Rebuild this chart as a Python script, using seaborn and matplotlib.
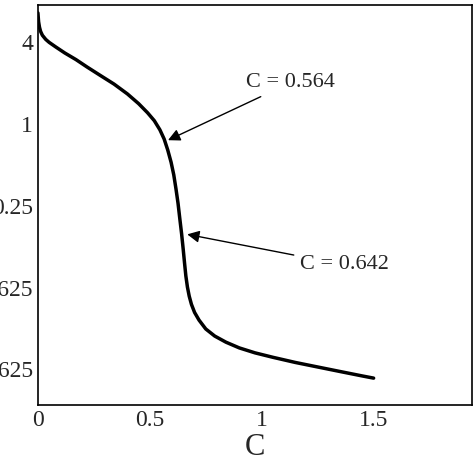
import numpy as np
import matplotlib.pyplot as plt
import seaborn as sns

# curve values
c_vals = [0.0, 0.003, 0.007, 0.012, 0.02, 0.035, 0.05, 0.08, 0.12, 0.17, 0.22, 0.28, 0.34, 0.40, 0.45,
          0.49, 0.52, 0.545, 0.564, 0.58, 0.595, 0.607, 0.617, 0.626, 0.634, 0.642, 0.649, 0.655,
          0.661, 0.668, 0.676, 0.686, 0.70, 0.72, 0.75, 0.79, 0.84, 0.90, 0.97, 1.05, 1.15, 1.25,
          1.35, 1.45, 1.5]
y_vals = [6.5, 5.6, 5.1, 4.75, 4.45, 4.15, 3.95, 3.65, 3.3, 2.95, 2.6, 2.25, 1.95, 1.65, 1.4,
          1.2, 1.05, 0.9, 0.77, 0.64, 0.52, 0.42, 0.33, 0.26, 0.2, 0.155, 0.12, 0.095,
          0.076, 0.063, 0.054, 0.047, 0.041, 0.036, 0.031, 0.0275, 0.0248, 0.0225, 0.0207, 0.0192, 0.0176, 0.0163,
          0.0151, 0.014, 0.0135]
y_ticks = [4, 1, 0.25, 0.0625, 0.015625]
y_labels = ['4', '1', '0.25', '0.0625', '0.015625']
x_ticks = [0, 0.5, 1, 1.5]
x_labels = ['0', '0.5', '1', '1.5']

sns.set_theme(style="white")
plt.rcParams['font.family'] = ['Liberation Serif', 'DejaVu Serif']

fig = plt.figure(figsize=(4.74, 4.74), dpi=100)
ax = fig.add_axes([0.08, 0.146, 0.916, 0.843])
sns.lineplot(x=c_vals, y=y_vals, ax=ax, color='black', linewidth=2.5)
ax.set_yscale('log', base=4)
ax.set_xlim(0, 1.94)
ax.set_ylim(0.0086, 7.4)
ax.set_yticks(y_ticks)
ax.set_yticklabels(y_labels)
ax.minorticks_off()
ax.set_xticks(x_ticks)
ax.set_xticklabels(x_labels)
ax.tick_params(direction='in', labelsize=17, length=6, color='black')
for s in ax.spines.values():
    s.set_color('black')
    s.set_linewidth(1.2)
ax.set_xlabel('C', fontsize=22, labelpad=2)

ax.annotate('C = 0.564', xy=(0.57, 0.74), xytext=(0.93, 1.85), fontsize=16,
            arrowprops=dict(arrowstyle='-|>', color='black', lw=1, mutation_scale=18))
ax.annotate('C = 0.642', xy=(0.655, 0.155), xytext=(1.17, 0.085), fontsize=16,
            arrowprops=dict(arrowstyle='-|>', color='black', lw=1, mutation_scale=18))

fig.savefig('out.png', dpi=100)
